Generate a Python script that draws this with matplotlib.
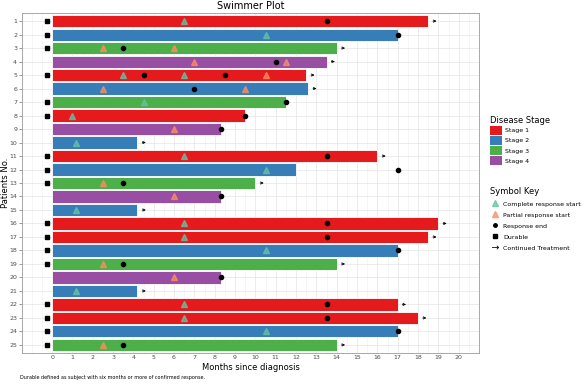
import matplotlib
matplotlib.use("Agg")
import matplotlib.pyplot as plt
from matplotlib.patches import Patch
from matplotlib.lines import Line2D
import numpy as np

# patients 1..25
patients = list(range(1, 26))
stage = [1, 2, 3, 4, 1, 2, 3, 1, 4, 2, 1, 2, 3, 4, 2, 1, 1, 2, 3, 4, 2, 1, 1, 2, 3]
end_time = [18.5, 17.0, 14.0, 13.5, 12.5, 12.6, 11.5, 9.5, 8.3, 4.2, 16.0, 12.0, 10.0,
            8.3, 4.2, 19.0, 18.5, 17.0, 14.0, 8.3, 4.2, 17.0, 18.0, 17.0, 14.0]

cr_pat = [1, 2, 5, 5, 7, 8, 10, 11, 12, 15, 16, 17, 18, 21, 22, 23, 24]
cr_time = [6.5, 10.5, 3.5, 6.5, 4.5, 1.0, 1.2, 6.5, 10.5, 1.2, 6.5, 6.5, 10.5, 1.2, 6.5, 6.5, 10.5]

pr_pat = [3, 3, 4, 4, 5, 6, 6, 9, 13, 14, 19, 20, 25]
pr_time = [2.5, 6.0, 7.0, 11.5, 10.5, 2.5, 9.5, 6.0, 2.5, 6.0, 2.5, 6.0, 2.5]

re_pat = [1, 2, 3, 4, 5, 5, 6, 7, 8, 9, 11, 12, 13, 14, 16, 17, 18, 19, 20, 22, 23, 24, 25]
re_time = [13.5, 17.0, 3.5, 11.0, 4.5, 8.5, 7.0, 11.5, 9.5, 8.3, 13.5, 17.0, 3.5, 8.3,
           13.5, 13.5, 17.0, 3.5, 8.3, 13.5, 13.5, 17.0, 3.5]

durable = [1, 2, 3, 5, 7, 8, 11, 12, 13, 16, 17, 18, 19, 22, 23, 24, 25]
continued = [1, 3, 4, 5, 6, 10, 11, 13, 15, 16, 17, 19, 21, 22, 23, 25]

stage_labels = ["Stage 1", "Stage 2", "Stage 3", "Stage 4"]
stage_colors = ["#E41A1C", "#377EB8", "#4DAF4A", "#984EA3"]
cr_color = "#66C2A5"
pr_color = "#FC8D62"

fig = plt.figure(figsize=(5.88, 3.87), dpi=100)
ax = fig.add_axes([22 / 588, 1 - 353 / 387, (479 - 22) / 588, (353 - 13) / 387])

cols = [stage_colors[s - 1] for s in stage]
ax.barh(patients, end_time, height=0.9, color=cols, edgecolor="white", linewidth=0.6, zorder=2)

ax.plot(cr_time, cr_pat, linestyle="none", marker="^", ms=4.5, color=cr_color, alpha=0.75, zorder=3)
ax.plot(pr_time, pr_pat, linestyle="none", marker="^", ms=4.5, color=pr_color, alpha=0.75, zorder=3)
ax.plot(re_time, re_pat, linestyle="none", marker="o", ms=3, color="black", zorder=4)
ax.plot([-0.25] * len(durable), durable, linestyle="none", marker="s", ms=3.2, color="black", zorder=4)

for p in continued:
    e = end_time[p - 1]
    ax.annotate("", xy=(e + 0.55, p), xytext=(e + 0.1, p),
                arrowprops=dict(arrowstyle="->", lw=0.6, color="black",
                                mutation_scale=4), zorder=4)

ax.set_xlim(-1.48, 21.0)
ax.set_ylim(25.6, 0.4)
ax.set_xticks(range(0, 21))
ax.set_xticks(np.arange(-1, 21.5, 0.5), minor=True)
ax.set_yticks(patients)
ax.tick_params(axis="both", labelsize=4.5, colors="#4d4d4d", length=2, width=0.4, pad=1.5)
ax.tick_params(axis="x", which="both", length=0)
ax.grid(which="major", color="#E5E5E5", linewidth=0.5, zorder=0)
ax.grid(which="minor", axis="x", color="#F0F0F0", linewidth=0.4, zorder=0)
for s in ax.spines.values():
    s.set_color("#9a9a9a")
    s.set_linewidth(0.6)
ax.set_axisbelow(True)

ax.set_xlabel("Months since diagnosis", fontsize=6, labelpad=2)
ax.set_ylabel("Patients No.", fontsize=6)
ax.yaxis.set_label_coords(-0.027, 0.5)
ax.set_title("Swimmer Plot", fontsize=7, pad=3)

fig.text(20 / 588, 1 - 377 / 387, "Durable defined as subject with six months or more of confirmed response.",
         fontsize=3.5, va="center")

stage_handles = [Patch(facecolor=c, edgecolor="none") for c in stage_colors]
leg1 = fig.legend(stage_handles, stage_labels, title="Disease Stage", loc="upper left",
                  bbox_to_anchor=(484 / 588, 1 - 110 / 387), frameon=False, fontsize=4.5,
                  title_fontsize=6, handlelength=1.9, handleheight=1.9, handletextpad=0.6,
                  labelspacing=0.15, alignment="left")

sym_handles = [
    Line2D([], [], linestyle="none", marker="^", ms=4.5, color=cr_color, alpha=0.75),
    Line2D([], [], linestyle="none", marker="^", ms=4.5, color=pr_color, alpha=0.75),
    Line2D([], [], linestyle="none", marker="o", ms=2.5, color="black"),
    Line2D([], [], linestyle="none", marker="s", ms=2.5, color="black"),
    Line2D([], [], linestyle="none", marker=r"$\rightarrow$", ms=5, color="black", markeredgewidth=0),
]
sym_labels = ["Complete response start", "Partial response start", "Response end",
              "Durable", "Continued Treatment"]
leg2 = fig.legend(sym_handles, sym_labels, title="Symbol Key", loc="upper left",
                  bbox_to_anchor=(484 / 588, 1 - 181 / 387), frameon=False, fontsize=4.5,
                  title_fontsize=6, handlelength=1.6, handletextpad=0.6,
                  labelspacing=0.9, alignment="left")

fig.savefig("out.png", dpi=100)
